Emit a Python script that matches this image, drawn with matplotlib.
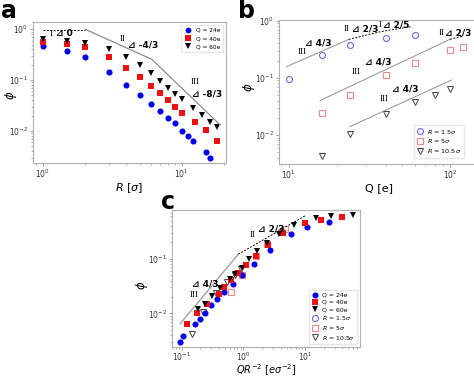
import matplotlib
matplotlib.use("Agg")
import matplotlib.pyplot as plt
from matplotlib.lines import Line2D

# ---- panel a : phi vs R for three charges ----
a_R24 = [1, 1.5, 2, 3, 4, 5, 6, 7, 8, 9, 10, 11, 12, 15, 16]
a_phi24 = [0.477, 0.38, 0.286, 0.147, 0.079, 0.050, 0.034, 0.0249, 0.0183,
           0.0142, 0.0100, 0.0078, 0.0064, 0.0039, 0.0030]
a_R40 = [1, 1.5, 2, 3, 4, 5, 6, 7, 8, 9, 10, 12.5, 15, 18]
a_phi40 = [0.572, 0.515, 0.449, 0.29, 0.176, 0.114, 0.0768, 0.055, 0.0407,
           0.030, 0.0223, 0.0151, 0.0102, 0.0064]
a_R60 = [1, 1.5, 2, 3, 4, 5, 6, 7, 8, 9, 10, 12, 14, 16, 18]
a_phi60 = [0.636, 0.598, 0.547, 0.41, 0.281, 0.196, 0.136, 0.098, 0.069,
           0.053, 0.0427, 0.0288, 0.0207, 0.0151, 0.0118]
Q_values = [24, 40, 60]

# guide lines
a_flat_x, a_flat_y = [1, 2.02], [0.97, 0.97]
a_slope_x, a_slope_y = [2.02, 6.08, 18.9], [1.0, 0.257, 0.0131]

# ---- panel b : phi vs Q for three radii ----
b_Q15 = [10, 16, 24, 40, 60]
b_phi15 = [0.094, 0.248, 0.375, 0.50, 0.56]
b_Q5 = [16, 24, 40, 60, 100, 120]
b_phi5 = [0.0246, 0.050, 0.112, 0.184, 0.307, 0.351]
b_Q105 = [16, 24, 40, 60, 80, 100]
b_phi105 = [0.0042, 0.0104, 0.0233, 0.0383, 0.050, 0.065]
R_values = [1.5, 5, 10.5]

b_g1_x, b_g1_y = [9.7, 23.5], [0.157, 0.471]
b_g1d_x, b_g1d_y = [23.5, 36.9, 56.6], [0.471, 0.642, 0.785]
b_g2_x, b_g2_y = [15.6, 99.5], [0.04, 0.473]
b_g2d_x, b_g2d_y = [99.5, 120], [0.473, 0.54]
b_g3_x, b_g3_y = [23.9, 102], [0.014, 0.092]

# ---- panel c guide lines ----
c_g1_x, c_g1_y = [0.0938, 0.826], [0.0064, 0.121]
c_g2_x, c_g2_y = [0.826, 9.96], [0.121, 0.61]

W, H = 474, 382
fig = plt.figure(figsize=(W / 100, H / 100), dpi=100)


def box(l, t, r, b):
    # pixel box -> figure fraction
    return [l / W, 1 - b / H, (r - l) / W, (b - t) / H]


def style(ax):
    ax.set_xscale("log")
    ax.set_yscale("log")
    for s in ax.spines.values():
        s.set_color("#b0b0b0")
        s.set_linewidth(0.8)
    ax.tick_params(which="both", direction="out", colors="#909090",
                   labelcolor="#333333", labelsize=5.5, pad=1.5)
    ax.tick_params(which="major", length=2, width=0.6)
    ax.tick_params(which="minor", length=1.2, width=0.5)


SER = ["Liberation Serif", "DejaVu Serif"]
SANS = ["DejaVu Sans"]


def tag(ax, x, y, roman, frac, fs=6.5):
    if roman:
        ax.text(x[0], y[0], roman, family=SER, fontsize=fs, va="center", ha="left")
    if frac:
        ax.text(x[1], y[1], frac, family=SANS, fontsize=fs, fontweight="bold",
                va="center", ha="left")


def labels(ax, xl, yl, xy, yx, yy):
    ax.set_xlabel(xl, fontsize=8)
    ax.set_ylabel(yl, fontsize=8.5)
    ax.xaxis.set_label_coords(0.5, xy)
    ax.yaxis.set_label_coords(yx, yy)


blue, red = "#0000f0", "#f01010"

# ---------- a ----------
ax = fig.add_axes(box(33, 22, 226, 163))
style(ax)
ax.plot(a_R24, a_phi24, "o", color=blue, ms=4.4, mew=0, label="Q = 24e")
ax.plot(a_R40, a_phi40, "s", color=red, ms=4.4, mew=0, label="Q = 40e")
ax.plot(a_R60, a_phi60, "v", color="black", ms=4.6, mew=0, label="Q = 60e")
ax.plot(a_flat_x, a_flat_y, "--", color="black", lw=0.7, dashes=(2, 1.5))
ax.plot(a_slope_x, a_slope_y, "-", color="#808080", lw=0.8)
ax.set_xlim(0.851, 20.8)
ax.set_ylim(0.00234, 1.39)
tag(ax, (1.12, 1.25), (0.80, 0.82), "I", "⊿ 0")
tag(ax, (3.55, 4.1), (0.64, 0.49), "II", "⊿ -4/3")
tag(ax, (11.6, 11.9), (0.092, 0.054), "III", "⊿ -8/3")
ax.legend(loc="upper right", fontsize=4.2, markerscale=0.95, handletextpad=0.6,
          borderpad=0.5, labelspacing=0.55, frameon=True, fancybox=False,
          edgecolor="#e0e0e0", handlelength=1.5)
labels(ax, r"$R$ [$\sigma$]", r"$\phi$", -0.13, -0.07, 0.48)
fig.text(1 / W, 1 - 11 / H, "a", fontsize=17, fontweight="bold", va="center")

# ---------- b ----------
ax = fig.add_axes(box(278.7, 20, 480, 164))
style(ax)
ax.spines["right"].set_visible(False)
ax.plot(b_Q15, b_phi15, "o", mfc="none", mec="#6a6ae0", ms=4.3, mew=0.8,
        label=r"$R$ = 1.5$\sigma$")
ax.plot(b_Q5, b_phi5, "s", mfc="none", mec="#ec8a8a", ms=4.3, mew=0.8,
        label=r"$R$ = 5$\sigma$")
ax.plot(b_Q105, b_phi105, "v", mfc="none", mec="#404040", ms=4.5, mew=0.7,
        label=r"$R$ = 10.5$\sigma$")
for gx, gy in [(b_g1_x, b_g1_y), (b_g2_x, b_g2_y), (b_g3_x, b_g3_y)]:
    ax.plot(gx, gy, "-", color="#909090", lw=0.7)
for gx, gy in [(b_g1d_x, b_g1d_y), (b_g2d_x, b_g2d_y)]:
    ax.plot(gx, gy, "--", color="black", lw=0.7, dashes=(2, 1.5))
ax.set_xlim(8.67, 8.67 * 10 ** ((480 - 278.7) / 161.7))
ax.set_ylim(0.0031, 1.03)
tag(ax, (11.4, 12.6), (0.287, 0.40), "III", "⊿ 4/3")
tag(ax, (22.0, 24.5), (0.73, 0.73), "II", "⊿ 2/3")
tag(ax, (36.0, 38.5), (0.84, 0.84), "I", "⊿ 2/5")
tag(ax, (24.4, 29.6), (0.128, 0.192), "III", "⊿ 4/3")
tag(ax, (84.5, 93.0), (0.60, 0.60), "II", "⊿ 2/3")
tag(ax, (36.4, 43.4), (0.0433, 0.063), "III", "⊿ 4/3")
ax.legend(loc="lower right", bbox_to_anchor=((467 - 278.7) / (480 - 278.7), 0.02),
          fontsize=4.6, handletextpad=0.5, borderpad=0.4, labelspacing=0.3,
          frameon=True, fancybox=False, edgecolor="#e0e0e0", handlelength=1.2)
labels(ax, "Q [e]", r"$\phi$", -0.13, -0.11, 0.53)
fig.text(238 / W, 1 - 11 / H, "b", fontsize=17, fontweight="bold", va="center")

# ---------- c : collapse on Q R^-2 ----------
ax = fig.add_axes(box(171.7, 210, 360, 347))
style(ax)
ax.tick_params(axis="x", which="both", pad=0.8)
# open markers from panel b, scaled by R^2
ax.plot([q / R_values[1] ** 2 for q in b_Q5], b_phi5, "s", mfc="none",
        mec="#ec8a8a", ms=4.3, mew=0.8, zorder=1)
ax.plot([q / R_values[2] ** 2 for q in b_Q105], b_phi105, "v", mfc="none",
        mec="#404040", ms=4.5, mew=0.7, zorder=1)
ax.plot([Q_values[0] / r ** 2 for r in a_R24], a_phi24, "o", color=blue,
        ms=4.4, mew=0, zorder=2)
ax.plot([Q_values[1] / r ** 2 for r in a_R40], a_phi40, "s", color=red,
        ms=4.4, mew=0, zorder=3)
ax.plot([Q_values[2] / r ** 2 for r in a_R60], a_phi60, "v", color="black",
        ms=4.6, mew=0, zorder=4)
ax.plot(c_g1_x, c_g1_y, "-", color="#909090", lw=0.8)
ax.plot(c_g2_x, c_g2_y, "--", color="black", lw=0.7, dashes=(2, 1.5))
ax.set_xlim(0.0689, 77.6)
ax.set_ylim(0.00243, 0.78)
tag(ax, (1.27, 1.75), (0.268, 0.35), "II", "⊿ 2/3")
tag(ax, (0.134, 0.145), (0.0219, 0.0343), "III", "⊿ 4/3")
handles = [
    Line2D([], [], ls="", marker="o", color=blue, ms=4.4, mew=0, label="Q = 24e"),
    Line2D([], [], ls="", marker="s", color=red, ms=4.4, mew=0, label="Q = 40e"),
    Line2D([], [], ls="", marker="v", color="black", ms=4.6, mew=0, label="Q = 60e"),
    Line2D([], [], ls="", marker="o", mfc="none", mec="#6a6ae0", ms=4.3, mew=0.8,
           label=r"$R$ = 1.5$\sigma$"),
    Line2D([], [], ls="", marker="s", mfc="none", mec="#ec8a8a", ms=4.3, mew=0.8,
           label=r"$R$ = 5$\sigma$"),
    Line2D([], [], ls="", marker="v", mfc="none", mec="#404040", ms=4.5, mew=0.7,
           label=r"$R$ = 10.5$\sigma$"),
]
ax.legend(handles=handles, loc="lower right", fontsize=4.4, handletextpad=0.5,
          borderpad=0.4, labelspacing=0.3, frameon=True, fancybox=False,
          edgecolor="#e0e0e0", handlelength=1.2)
labels(ax, r"$QR^{-2}$ [$e\sigma^{-2}$]", r"$\phi$", -0.11, -0.115, 0.45)
ax.xaxis.label.set_fontsize(7)
fig.text(161 / W, 1 - 202 / H, "c", fontsize=17, fontweight="bold", va="center")

fig.savefig("out.png", dpi=100)
